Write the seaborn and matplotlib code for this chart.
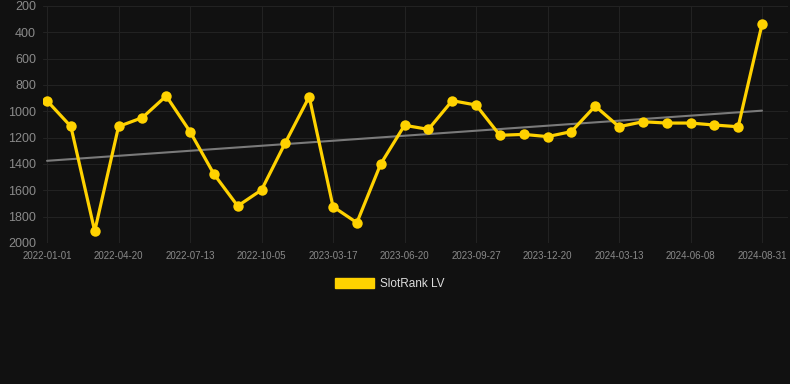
import matplotlib
matplotlib.use("Agg")
import matplotlib.pyplot as plt
import numpy as np
import pandas as pd
import seaborn as sns
from matplotlib.patches import Patch

# SlotRank position per sample (31 samples, every 3rd one labelled)
RANKS = [
    920, 1115, 1910, 1115, 1048, 883, 1154, 1476, 1719, 1597, 1238,
    889, 1724, 1846, 1400, 1106, 1137, 919, 952, 1182, 1175, 1192,
    1154, 960, 1117, 1079, 1089, 1089, 1104, 1117, 339,
]
TICK_LABELS = [
    "2022-01-01", "2022-04-20", "2022-07-13", "2022-10-05", "2023-03-17",
    "2023-06-20", "2023-09-27", "2023-12-20", "2024-03-13", "2024-06-08",
    "2024-08-31",
]
Y_TICKS = [200, 400, 600, 800, 1000, 1200, 1400, 1600, 1800, 2000]

BG = "#111111"
GOLD = "#FFD200"

sns.set_theme(style="dark")
plt.rcParams["font.family"] = ["Liberation Sans", "DejaVu Sans"]

df = pd.DataFrame({"idx": np.arange(len(RANKS)), "rank": RANKS})

fig = plt.figure(figsize=(7.9, 3.84), dpi=100, facecolor=BG)
ax = fig.add_axes([43 / 790, 1 - 243 / 384, 745 / 790, 237 / 384])
ax.set_facecolor(BG)

# linear trend underneath the series
sns.regplot(data=df, x="idx", y="rank", ax=ax, scatter=False, ci=None,
            color="#7a7a7a", line_kws={"linewidth": 1.5})
sns.lineplot(data=df, x="idx", y="rank", ax=ax, color=GOLD, linewidth=2.3,
             marker="o", markersize=7.5, markeredgewidth=0)

ax.set_ylim(2000, 200)
ax.set_yticks(Y_TICKS)
ax.set_xlim(-0.17, 31.09)
ax.set_xticks(np.arange(0, len(RANKS), 3))
ax.set_xticklabels(TICK_LABELS)
ax.set_xlabel("")
ax.set_ylabel("")

ax.grid(True, color="#222222", linewidth=0.8)
for s in ax.spines.values():
    s.set_visible(False)
ax.tick_params(axis="y", colors="#8a8a8a", labelsize=9, length=0, pad=5)
ax.tick_params(axis="x", colors="#8a8a8a", labelsize=7, length=3, pad=3,
               color="#222222")

fig.legend(handles=[Patch(facecolor=GOLD, edgecolor=GOLD, label="SlotRank LV")],
           loc="center", bbox_to_anchor=(390 / 790, 1 - 284 / 384),
           frameon=False, labelcolor="#dddddd", fontsize=8.5,
           handlelength=3.3, handleheight=1.0, handletextpad=0.5)

fig.savefig("out.png", dpi=100, facecolor=BG)
